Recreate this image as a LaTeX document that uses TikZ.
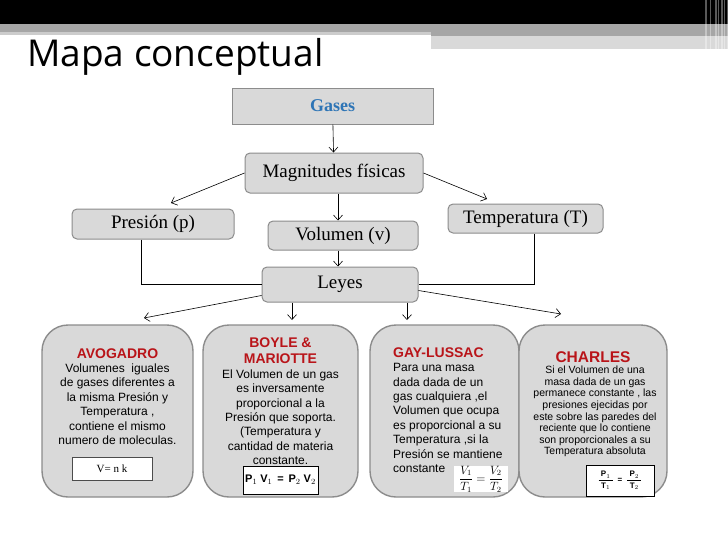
\documentclass[tikz,border=0pt]{standalone}
\usepackage{amsmath}
\usepackage{fontspec}
\setmainfont{Liberation Serif}
\setsansfont{Liberation Sans}
\newfontfamily\titlefont{Open Sans}
\usetikzlibrary{arrows.meta}
\definecolor{boxfill}{HTML}{D9D9D9}
\definecolor{boxline}{HTML}{8C8C8C}
\definecolor{leyred}{RGB}{185,20,25}
\definecolor{gasblue}{HTML}{2E75B6}

\begin{document}
\begin{tikzpicture}[x=1pt, y=-1pt, every node/.style={inner sep=0pt}]
  \tikzstyle{concept}=[draw=boxline, fill=boxfill, line width=1pt, rounded corners=5pt, font=\fontsize{19}{22}\selectfont]
  \tikzstyle{law}=[draw=boxline, fill=boxfill, line width=1.4pt, rounded corners=26pt, minimum height=172pt]
  \tikzstyle{lawtitle}=[text=leyred, font=\sffamily\bfseries\fontsize{14}{16}\selectfont, align=center]
  \tikzstyle{lawtext}=[font=\sffamily\fontsize{12}{14.4}\selectfont, align=center, anchor=north]
  \tikzstyle{formula}=[draw, fill=white, line width=0.6pt]
  \tikzstyle{arr}=[-{Straight Barb[length=5pt,width=9pt]}, line width=0.6pt]
  \tikzstyle{link}=[line width=0.8pt]

  \useasboundingbox (0,0) rectangle (728,546);
  % header band
  \fill[black] (0,0) rectangle (728,24);
  \fill[black!35] (0,24) rectangle (728,32);
  \fill[black!20] (0,32) rectangle (431,35);
  \fill[black!35] (431,24) rectangle (728,36);
  \fill[black!15] (431,36) rectangle (728,49);
  \foreach \x/\w in {705/1.5, 710/1, 715/2, 718/1, 721/1.5, 724/1, 727/1}
    \fill[white, opacity=0.35] (\x,0) rectangle ++(\w,50);
  \node[anchor=base west, font=\titlefont\fontsize{37}{40}\selectfont] (title) at (27,66) {Mapa conceptual};

  % upper concepts
  \node[concept, sharp corners, minimum width=201pt, minimum height=36pt, text=gasblue, font=\bfseries\fontsize{18}{20}\selectfont] (gases) at (332.5,106) {Gases};
  \node[concept, minimum width=178pt, minimum height=40pt] (magn) at (334,173) {Magnitudes físicas};
  \node[concept, minimum width=162pt, minimum height=30pt] (pres) at (153,224) {Presión (p)};
  \node[concept, minimum width=150pt, minimum height=29pt] (vol) at (343,235.5) {Volumen (v)};
  \node[concept, minimum width=155pt, minimum height=29pt] (temp) at (525.5,218.5) {Temperatura (T)};
  \node[concept, minimum width=156pt, minimum height=35pt] (leyes) at (340,284.5) {Leyes};

  % laws
  \node[law, minimum width=151pt] (avog) at (117.5,411) {};
  \node[law, minimum width=155pt] (boyle) at (280.5,411) {};
  \node[law, minimum width=149pt] (gay) at (444.5,411) {};
  \node[law, minimum width=148pt] (charles) at (593,411) {};

  \node[lawtitle] (avogT) at (117.5,354) {AVOGADRO};
  \node[lawtext] (avogB) at (117.5,363.5) {Volumenes\ \ iguales\\de gases diferentes a\\la misma Presión y\\Temperatura ,\\contiene el mismo\\numero de moleculas.};
  \node[formula, draw=black!70, minimum width=80pt, minimum height=23pt, font=\fontsize{11}{12}\selectfont] (avogF) at (112,468.5) {V= n k};

  \node[lawtitle, anchor=north] (boyleT) at (280.5,338) {BOYLE \&\\MARIOTTE};
  \node[lawtext] (boyleB) at (280.5,369.3) {El Volumen de un gas\\es inversamente\\proporcional a la\\Presión que soporta.\\(Temperatura y\\cantidad de materia\\constante.};
  \node[formula, minimum width=75pt, minimum height=28pt, font=\sffamily\bfseries\fontsize{11}{12}\selectfont] (boyleF) at (280.5,480) {P$_1$ V$_1$ \,=\, P$_2$ V$_2$};

  \node[lawtitle, anchor=west] (gayT) at (393,353) {GAY-LUSSAC};
  \node[lawtext, align=left, anchor=north west] (gayB) at (393,363.3) {Para una masa\\dada dada de un\\gas cualquiera ,el\\Volumen que ocupa\\es proporcional a su\\Temperatura ,si la\\Presión se mantiene\\constante};
  \node[fill=white, minimum width=54pt, minimum height=24pt, font=\fontsize{11.5}{13}\selectfont] (gayF) at (481,479) {$\dfrac{V_1}{T_1}=\dfrac{V_2}{T_2}$};

  \node[lawtitle, font=\sffamily\bfseries\fontsize{15.5}{17}\selectfont] (charlesT) at (593,357) {CHARLES};
  \node[lawtext, font=\sffamily\fontsize{10.5}{11.6}\selectfont] (charlesB) at (595,365.8) {Si el Volumen de una\\masa dada de un gas\\permanece constante , las\\presiones ejecidas por\\este sobre las paredes del\\reciente que lo contiene\\son proporcionales a su\\Temperatura absoluta};
  \node[formula, minimum width=68pt, minimum height=31pt, font=\sffamily\bfseries\fontsize{8}{9}\selectfont] (charlesF) at (620,480.5) {$\dfrac{\;\textbf{P}_1\;}{\textbf{T}_1}\ \,\textbf{=}\ \,\dfrac{\;\textbf{P}_2\;}{\textbf{T}_2}$};

  % arrow ends
  \coordinate (tipP) at (171,203);
  \coordinate (tipT) at (487,199);
  \coordinate (tipA) at (144,318);
  \coordinate (tipB) at (292,320);
  \coordinate (tipG) at (407,320);
  \coordinate (tipC) at (561,314);

  % connectors
  \draw[arr] (gases) -- (magn);
  \draw[arr] (magn.west) -- (tipP);
  \draw[arr] (magn.east) -- (tipT);
  \draw[arr] ([xshift=4pt]magn.south) -- ([xshift=4pt]magn.south |- vol.north);
  \draw[arr] ([xshift=-5pt]vol.south) -- ([xshift=-5pt]vol.south |- leyes.north);
  \draw[link] ([xshift=-12pt]pres.south) |- (leyes.west);
  \draw[link] ([xshift=8.5pt]temp.south) |- (leyes.east);
  \draw[arr] ([yshift=7pt]leyes.south west) -- (tipA);
  \draw[arr] (tipB |- leyes.south) -- (tipB);
  \draw[arr] (tipG |- leyes.south) -- (tipG);
  \draw[arr] ([yshift=12pt]leyes.south east) -- (tipC);
\end{tikzpicture}
\end{document}
